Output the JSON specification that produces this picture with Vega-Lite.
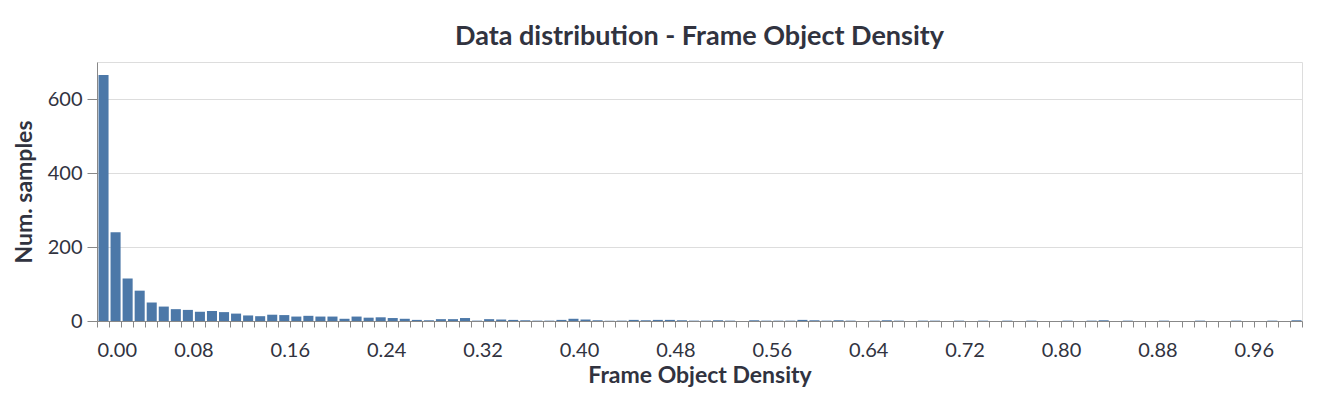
{
  "$schema": "https://vega.github.io/schema/vega-lite/v6.json",
  "autosize": "none",
  "padding": {"left": 97, "top": 62, "right": 28, "bottom": 81},
  "width": 1205,
  "height": 259,
  "title": {"text": "Data distribution - Frame Object Density", "font": "Lato", "fontSize": 27, "fontWeight": "bold", "color": "#31333F", "anchor": "middle", "offset": 11},
  "config": {
    "view": {"stroke": "#dddddd"},
    "axis": {"labelFont": "Lato", "titleFont": "Lato", "labelFontSize": 20, "titleFontSize": 23, "labelColor": "#31333F", "titleColor": "#31333F", "domainColor": "#888888", "tickColor": "#888888", "gridColor": "#dddddd", "titleFontWeight": "bold"}
  },
  "data": {"values": [
    {"start": 0.00, "end": 0.01, "count": 665},
    {"start": 0.01, "end": 0.02, "count": 240},
    {"start": 0.02, "end": 0.03, "count": 115},
    {"start": 0.03, "end": 0.04, "count": 82},
    {"start": 0.04, "end": 0.05, "count": 50},
    {"start": 0.05, "end": 0.06, "count": 39},
    {"start": 0.06, "end": 0.07, "count": 32},
    {"start": 0.07, "end": 0.08, "count": 30},
    {"start": 0.08, "end": 0.09, "count": 25},
    {"start": 0.09, "end": 0.10, "count": 27},
    {"start": 0.10, "end": 0.11, "count": 24},
    {"start": 0.11, "end": 0.12, "count": 20},
    {"start": 0.12, "end": 0.13, "count": 15},
    {"start": 0.13, "end": 0.14, "count": 13},
    {"start": 0.14, "end": 0.15, "count": 17},
    {"start": 0.15, "end": 0.16, "count": 16},
    {"start": 0.16, "end": 0.17, "count": 12},
    {"start": 0.17, "end": 0.18, "count": 14},
    {"start": 0.18, "end": 0.19, "count": 12},
    {"start": 0.19, "end": 0.20, "count": 12},
    {"start": 0.20, "end": 0.21, "count": 6},
    {"start": 0.21, "end": 0.22, "count": 12},
    {"start": 0.22, "end": 0.23, "count": 9},
    {"start": 0.23, "end": 0.24, "count": 10},
    {"start": 0.24, "end": 0.25, "count": 8},
    {"start": 0.25, "end": 0.26, "count": 6},
    {"start": 0.26, "end": 0.27, "count": 3},
    {"start": 0.27, "end": 0.28, "count": 2},
    {"start": 0.28, "end": 0.29, "count": 5},
    {"start": 0.29, "end": 0.30, "count": 5},
    {"start": 0.30, "end": 0.31, "count": 8},
    {"start": 0.31, "end": 0.32, "count": 1},
    {"start": 0.32, "end": 0.33, "count": 5},
    {"start": 0.33, "end": 0.34, "count": 4},
    {"start": 0.34, "end": 0.35, "count": 3},
    {"start": 0.35, "end": 0.36, "count": 2},
    {"start": 0.36, "end": 0.37, "count": 1},
    {"start": 0.37, "end": 0.38, "count": 1},
    {"start": 0.38, "end": 0.39, "count": 3},
    {"start": 0.39, "end": 0.40, "count": 6},
    {"start": 0.40, "end": 0.41, "count": 4},
    {"start": 0.41, "end": 0.42, "count": 2},
    {"start": 0.42, "end": 0.43, "count": 1},
    {"start": 0.43, "end": 0.44, "count": 1},
    {"start": 0.44, "end": 0.45, "count": 3},
    {"start": 0.45, "end": 0.46, "count": 2},
    {"start": 0.46, "end": 0.47, "count": 3},
    {"start": 0.47, "end": 0.48, "count": 3},
    {"start": 0.48, "end": 0.49, "count": 2},
    {"start": 0.49, "end": 0.50, "count": 1},
    {"start": 0.50, "end": 0.51, "count": 1},
    {"start": 0.51, "end": 0.52, "count": 2},
    {"start": 0.52, "end": 0.53, "count": 1},
    {"start": 0.53, "end": 0.54, "count": 0},
    {"start": 0.54, "end": 0.55, "count": 2},
    {"start": 0.55, "end": 0.56, "count": 1},
    {"start": 0.56, "end": 0.57, "count": 1},
    {"start": 0.57, "end": 0.58, "count": 1},
    {"start": 0.58, "end": 0.59, "count": 3},
    {"start": 0.59, "end": 0.60, "count": 2},
    {"start": 0.60, "end": 0.61, "count": 1},
    {"start": 0.61, "end": 0.62, "count": 2},
    {"start": 0.62, "end": 0.63, "count": 1},
    {"start": 0.63, "end": 0.64, "count": 0},
    {"start": 0.64, "end": 0.65, "count": 1},
    {"start": 0.65, "end": 0.66, "count": 2},
    {"start": 0.66, "end": 0.67, "count": 1},
    {"start": 0.67, "end": 0.68, "count": 0},
    {"start": 0.68, "end": 0.69, "count": 1},
    {"start": 0.69, "end": 0.70, "count": 1},
    {"start": 0.70, "end": 0.71, "count": 0},
    {"start": 0.71, "end": 0.72, "count": 1},
    {"start": 0.72, "end": 0.73, "count": 0},
    {"start": 0.73, "end": 0.74, "count": 1},
    {"start": 0.74, "end": 0.75, "count": 0},
    {"start": 0.75, "end": 0.76, "count": 1},
    {"start": 0.76, "end": 0.77, "count": 0},
    {"start": 0.77, "end": 0.78, "count": 1},
    {"start": 0.78, "end": 0.79, "count": 0},
    {"start": 0.79, "end": 0.80, "count": 0},
    {"start": 0.80, "end": 0.81, "count": 1},
    {"start": 0.81, "end": 0.82, "count": 0},
    {"start": 0.82, "end": 0.83, "count": 1},
    {"start": 0.83, "end": 0.84, "count": 2},
    {"start": 0.84, "end": 0.85, "count": 0},
    {"start": 0.85, "end": 0.86, "count": 1},
    {"start": 0.86, "end": 0.87, "count": 0},
    {"start": 0.87, "end": 0.88, "count": 0},
    {"start": 0.88, "end": 0.89, "count": 1},
    {"start": 0.89, "end": 0.90, "count": 0},
    {"start": 0.90, "end": 0.91, "count": 0},
    {"start": 0.91, "end": 0.92, "count": 1},
    {"start": 0.92, "end": 0.93, "count": 0},
    {"start": 0.93, "end": 0.94, "count": 0},
    {"start": 0.94, "end": 0.95, "count": 1},
    {"start": 0.95, "end": 0.96, "count": 0},
    {"start": 0.96, "end": 0.97, "count": 0},
    {"start": 0.97, "end": 0.98, "count": 1},
    {"start": 0.98, "end": 0.99, "count": 0},
    {"start": 0.99, "end": 1.00, "count": 2}
  ]},
  "mark": {"type": "bar", "color": "#4c78a8", "binSpacing": 2},
  "encoding": {
    "x": {"field": "start", "type": "quantitative", "bin": {"binned": true, "step": 0.01}, "scale": {"domain": [0, 1]}, "axis": {"title": "Frame Object Density", "format": ".2f", "grid": false, "tickSize": 6, "labelPadding": 13, "titlePadding": 4}},
    "x2": {"field": "end"},
    "y": {"field": "count", "type": "quantitative", "scale": {"domain": [0, 700], "nice": false}, "axis": {"title": "Num. samples", "tickCount": 4, "tickSize": 10, "labelPadding": 5, "titlePadding": 11}}
  }
}
